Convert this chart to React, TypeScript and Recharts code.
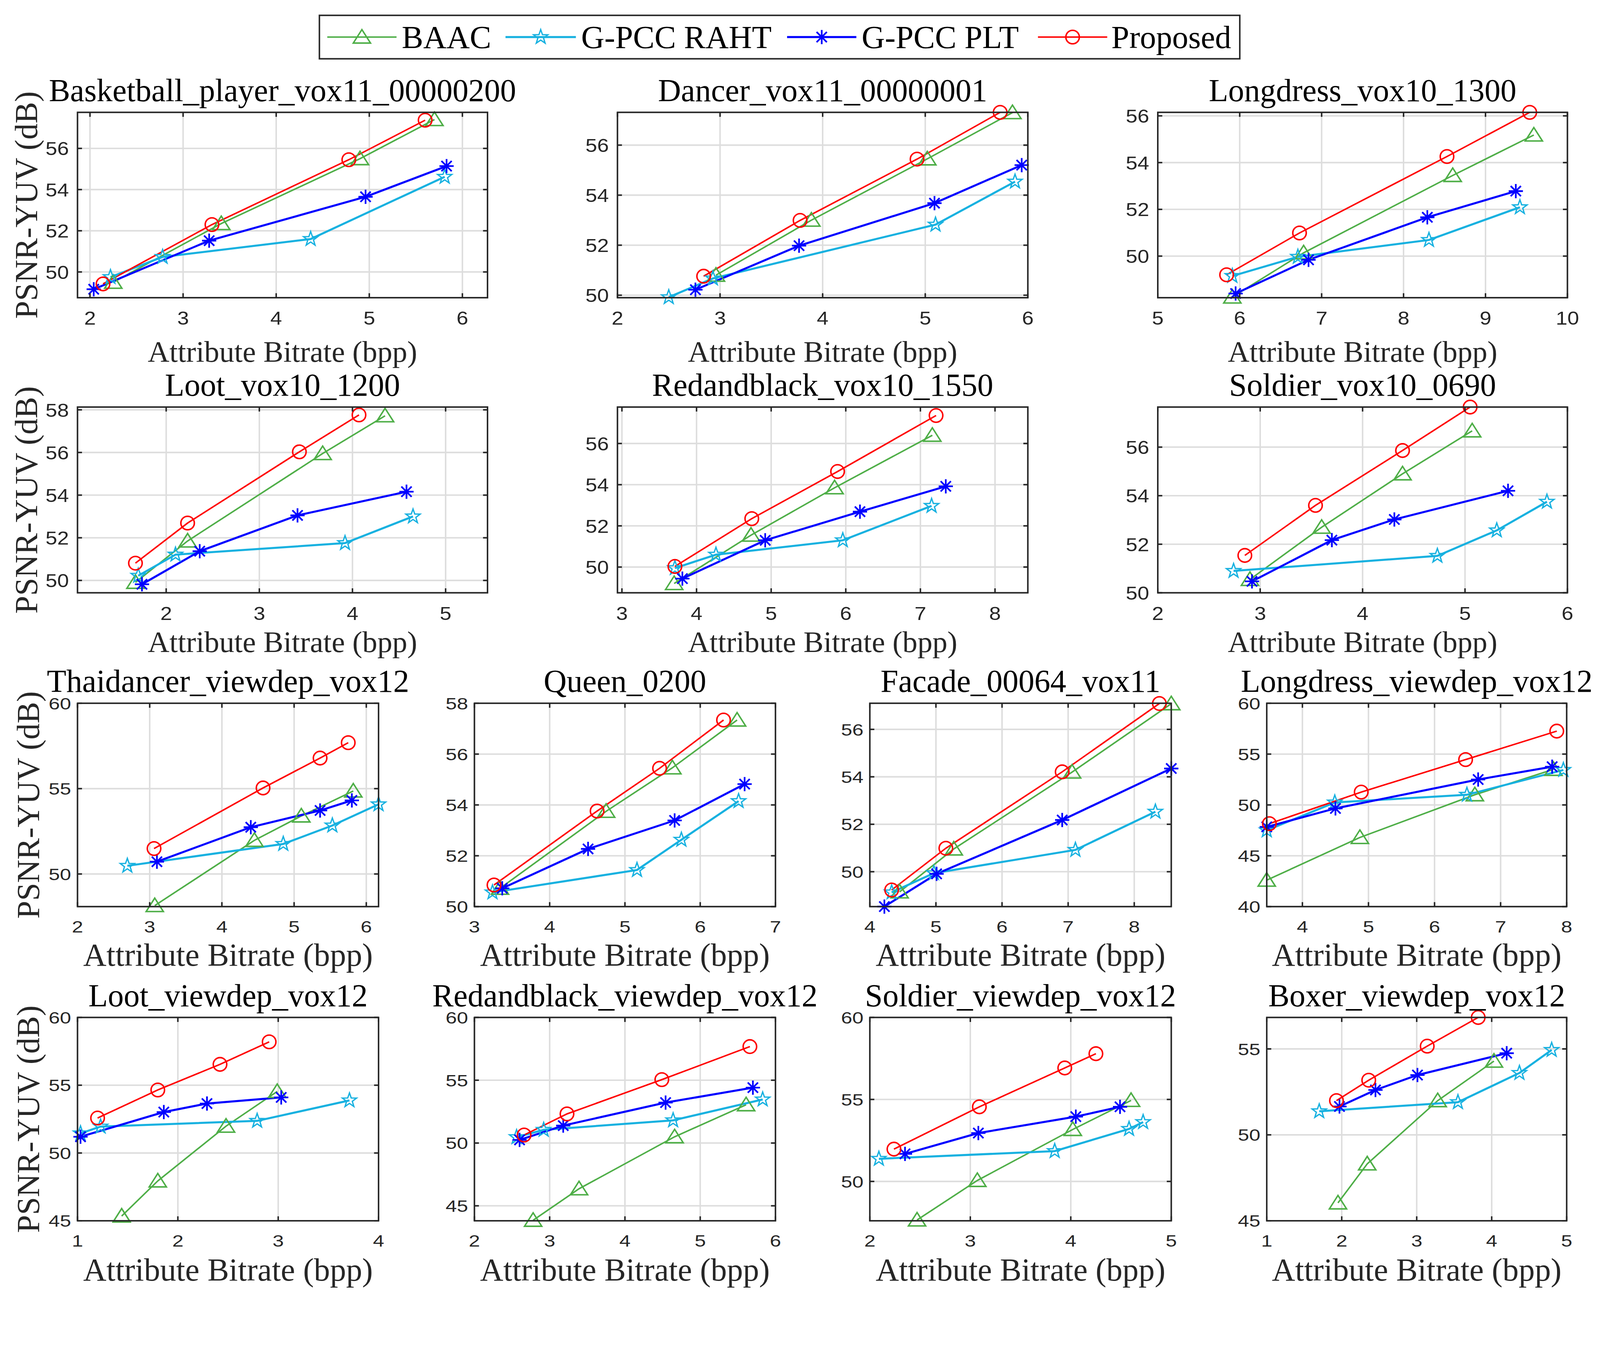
import React from 'react';
import { LineChart, Line, XAxis, YAxis, CartesianGrid } from 'recharts';

type Pt = [number, number];

// ---------------- data ----------------
const seriesNames = ['BAAC', 'G-PCC RAHT', 'G-PCC PLT', 'Proposed'];

const titles = [
  'Basketball_player_vox11_00000200',
  'Dancer_vox11_00000001',
  'Longdress_vox10_1300',
  'Loot_vox10_1200',
  'Redandblack_vox10_1550',
  'Soldier_vox10_0690',
  'Thaidancer_viewdep_vox12',
  'Queen_0200',
  'Facade_00064_vox11',
  'Longdress_viewdep_vox12',
  'Loot_viewdep_vox12',
  'Redandblack_viewdep_vox12',
  'Soldier_viewdep_vox12',
  'Boxer_viewdep_vox12',
];

const xDomains: Pt[] = [
  [1.866, 6.27], [2, 6], [5, 10],
  [1.048, 5.45], [2.94, 8.44], [2, 6],
  [2, 6.17], [3, 7], [4, 8.56], [3.46, 8],
  [1, 4], [2, 6], [2, 5], [1, 5],
];
const yDomains: Pt[] = [
  [48.75, 57.75], [49.9, 57.31], [48.22, 56.15],
  [49.42, 58.13], [48.75, 57.77], [50, 57.65],
  [48.09, 60], [50, 58], [48.53, 57.1], [40, 60],
  [45, 60], [43.81, 60], [47.6, 60], [45, 56.83],
];
const xTicks: number[][] = [
  [2, 3, 4, 5, 6], [2, 3, 4, 5, 6], [5, 6, 7, 8, 9, 10],
  [2, 3, 4, 5], [3, 4, 5, 6, 7, 8], [2, 3, 4, 5, 6],
  [2, 3, 4, 5, 6], [3, 4, 5, 6, 7], [4, 5, 6, 7, 8], [4, 5, 6, 7, 8],
  [1, 2, 3, 4], [2, 3, 4, 5, 6], [2, 3, 4, 5], [1, 2, 3, 4, 5],
];
const yTicks: number[][] = [
  [50, 52, 54, 56], [50, 52, 54, 56], [50, 52, 54, 56],
  [50, 52, 54, 56, 58], [50, 52, 54, 56], [50, 52, 54, 56],
  [50, 55, 60], [50, 52, 54, 56, 58], [50, 52, 54, 56], [40, 45, 50, 55, 60],
  [45, 50, 55, 60], [45, 50, 55, 60], [50, 55, 60], [45, 50, 55],
];

// Basketball_player_vox11_00000200
const basketballBAAC: Pt[] = [[2.25, 49.5], [3.41, 52.35], [4.9, 55.5], [5.7, 57.4]];
const basketballRAHT: Pt[] = [[2.22, 49.75], [2.78, 50.73], [4.37, 51.6], [5.81, 54.62]];
const basketballPLT: Pt[] = [[2.04, 49.16], [3.28, 51.52], [4.96, 53.65], [5.83, 55.14]];
const basketballProp: Pt[] = [[2.14, 49.42], [3.31, 52.3], [4.78, 55.45], [5.6, 57.37]];
// Dancer_vox11_00000001
const dancerBAAC: Pt[] = [[2.96, 50.8], [3.89, 53.0], [5.02, 55.45], [5.85, 57.3]];
const dancerRAHT: Pt[] = [[2.5, 49.92], [2.93, 50.67], [5.1, 52.82], [5.875, 54.54]];
const dancerPLT: Pt[] = [[2.76, 50.22], [3.77, 51.98], [5.09, 53.68], [5.94, 55.2]];
const dancerProp: Pt[] = [[2.84, 50.76], [3.78, 52.99], [4.92, 55.44], [5.73, 57.31]];
// Longdress_vox10_1300
const longdressBAAC: Pt[] = [[5.91, 48.25], [6.78, 50.14], [8.6, 53.45], [9.59, 55.18]];
const longdressRAHT: Pt[] = [[5.91, 49.15], [6.71, 49.97], [8.31, 50.69], [9.42, 52.09]];
const longdressPLT: Pt[] = [[5.95, 48.4], [6.84, 49.84], [8.29, 51.66], [9.37, 52.78]];
const longdressProp: Pt[] = [[5.84, 49.2], [6.73, 50.99], [8.53, 54.26], [9.54, 56.15]];
// Loot_vox10_1200
const lootBAAC: Pt[] = [[1.67, 49.91], [2.23, 51.85], [3.68, 55.95], [4.35, 57.72]];
const lootRAHT: Pt[] = [[1.7, 50.22], [2.1, 51.21], [3.92, 51.75], [4.65, 53.0]];
const lootPLT: Pt[] = [[1.74, 49.82], [2.36, 51.37], [3.41, 53.05], [4.58, 54.16]];
const lootProp: Pt[] = [[1.67, 50.81], [2.23, 52.69], [3.43, 56.03], [4.07, 57.76]];
// Redandblack_vox10_1550
const redblackBAAC: Pt[] = [[3.7, 49.2], [4.73, 51.55], [5.85, 53.85], [7.16, 56.4]];
const redblackRAHT: Pt[] = [[3.71, 49.95], [4.26, 50.6], [5.96, 51.3], [7.15, 52.97]];
const redblackPLT: Pt[] = [[3.81, 49.44], [4.92, 51.3], [6.19, 52.69], [7.34, 53.92]];
const redblackProp: Pt[] = [[3.71, 50.03], [4.74, 52.35], [5.89, 54.64], [7.21, 57.36]];
// Soldier_vox10_0690
const soldierBAAC: Pt[] = [[2.9, 50.55], [3.6, 52.7], [4.39, 54.9], [5.07, 56.67]];
const soldierRAHT: Pt[] = [[2.74, 50.9], [4.73, 51.52], [5.31, 52.57], [5.8, 53.75]];
const soldierPLT: Pt[] = [[2.92, 50.47], [3.7, 52.17], [4.31, 53.02], [5.42, 54.2]];
const soldierProp: Pt[] = [[2.85, 51.54], [3.54, 53.6], [4.39, 55.86], [5.05, 57.65]];
// Thaidancer_viewdep_vox12
const thaiBAAC: Pt[] = [[3.07, 48.15], [4.45, 51.97], [5.1, 53.4], [5.82, 54.86]];
const thaiRAHT: Pt[] = [[2.69, 50.48], [4.85, 51.76], [5.53, 52.84], [6.17, 54.08]];
const thaiPLT: Pt[] = [[3.1, 50.72], [4.4, 52.74], [5.36, 53.72], [5.8, 54.31]];
const thaiProp: Pt[] = [[3.06, 51.49], [4.57, 55.04], [5.36, 56.79], [5.75, 57.69]];
// Queen_0200
const queenBAAC: Pt[] = [[3.34, 50.72], [4.75, 53.75], [5.63, 55.46], [6.49, 57.34]];
const queenRAHT: Pt[] = [[3.24, 50.56], [5.16, 51.44], [5.75, 52.63], [6.51, 54.15]];
const queenPLT: Pt[] = [[3.37, 50.72], [4.51, 52.27], [5.66, 53.39], [6.59, 54.82]];
const queenProp: Pt[] = [[3.26, 50.85], [4.63, 53.76], [5.46, 55.44], [6.31, 57.34]];
// Facade_00064_vox11
const facadeBAAC: Pt[] = [[4.45, 49.15], [5.27, 50.96], [7.06, 54.2], [8.56, 57.08]];
const facadeRAHT: Pt[] = [[4.33, 49.13], [4.97, 49.94], [7.11, 50.92], [8.32, 52.53]];
const facadePLT: Pt[] = [[4.22, 48.53], [5.01, 49.91], [6.91, 52.18], [8.56, 54.35]];
const facadeProp: Pt[] = [[4.33, 49.23], [5.15, 50.99], [6.91, 54.21], [8.38, 57.09]];
// Longdress_viewdep_vox12
const longdressVdBAAC: Pt[] = [[3.46, 42.6], [4.87, 46.8], [6.61, 51.0], [7.8, 53.5]];
const longdressVdRAHT: Pt[] = [[3.46, 47.5], [4.49, 50.24], [6.49, 51.0], [7.95, 53.44]];
const longdressVdPLT: Pt[] = [[3.46, 47.84], [4.5, 49.66], [6.66, 52.5], [7.78, 53.76]];
const longdressVdProp: Pt[] = [[3.5, 48.16], [4.89, 51.26], [6.47, 54.46], [7.85, 57.26]];
// Loot_viewdep_vox12
const lootVdBAAC: Pt[] = [[1.44, 45.35], [1.8, 47.94], [2.48, 51.98], [2.99, 54.54]];
const lootVdRAHT: Pt[] = [[1.03, 51.45], [1.23, 51.95], [2.79, 52.37], [3.71, 53.88]];
const lootVdPLT: Pt[] = [[1.03, 51.2], [1.86, 53.02], [2.29, 53.65], [3.03, 54.1]];
const lootVdProp: Pt[] = [[1.2, 52.58], [1.8, 54.65], [2.42, 56.54], [2.91, 58.2]];
// Redandblack_viewdep_vox12
const redblackVdBAAC: Pt[] = [[2.78, 43.85], [3.39, 46.36], [4.66, 50.5], [5.61, 53.05]];
const redblackVdRAHT: Pt[] = [[2.56, 50.47], [2.92, 51.05], [4.64, 51.81], [5.83, 53.47]];
const redblackVdPLT: Pt[] = [[2.6, 50.25], [3.18, 51.39], [4.54, 53.22], [5.7, 54.41]];
const redblackVdProp: Pt[] = [[2.66, 50.64], [3.23, 52.32], [4.49, 55.05], [5.66, 57.68]];
// Soldier_viewdep_vox12
const soldierVdBAAC: Pt[] = [[2.47, 47.65], [3.07, 50.06], [4.02, 53.17], [4.6, 54.94]];
const soldierVdRAHT: Pt[] = [[2.09, 51.38], [3.84, 51.85], [4.58, 53.2], [4.72, 53.62]];
const soldierVdPLT: Pt[] = [[2.35, 51.68], [3.08, 52.95], [4.05, 53.95], [4.49, 54.55]];
const soldierVdProp: Pt[] = [[2.24, 51.97], [3.09, 54.55], [3.94, 56.92], [4.25, 57.79]];
// Boxer_viewdep_vox12
const boxerVdBAAC: Pt[] = [[1.95, 46.04], [2.34, 48.31], [3.28, 51.99], [4.03, 54.29]];
const boxerVdRAHT: Pt[] = [[1.7, 51.37], [3.55, 51.9], [4.37, 53.6], [4.8, 54.94]];
const boxerVdPLT: Pt[] = [[1.97, 51.65], [2.45, 52.61], [3.01, 53.48], [4.2, 54.75]];
const boxerVdProp: Pt[] = [[1.93, 51.99], [2.36, 53.18], [3.14, 55.16], [3.82, 56.83]];

const plotSeries: Pt[][][] = [
  [basketballBAAC, basketballRAHT, basketballPLT, basketballProp],
  [dancerBAAC, dancerRAHT, dancerPLT, dancerProp],
  [longdressBAAC, longdressRAHT, longdressPLT, longdressProp],
  [lootBAAC, lootRAHT, lootPLT, lootProp],
  [redblackBAAC, redblackRAHT, redblackPLT, redblackProp],
  [soldierBAAC, soldierRAHT, soldierPLT, soldierProp],
  [thaiBAAC, thaiRAHT, thaiPLT, thaiProp],
  [queenBAAC, queenRAHT, queenPLT, queenProp],
  [facadeBAAC, facadeRAHT, facadePLT, facadeProp],
  [longdressVdBAAC, longdressVdRAHT, longdressVdPLT, longdressVdProp],
  [lootVdBAAC, lootVdRAHT, lootVdPLT, lootVdProp],
  [redblackVdBAAC, redblackVdRAHT, redblackVdPLT, redblackVdProp],
  [soldierVdBAAC, soldierVdRAHT, soldierVdPLT, soldierVdProp],
  [boxerVdBAAC, boxerVdRAHT, boxerVdPLT, boxerVdProp],
];

// ---------------- layout & style ----------------
const PAGE_W = 4273;
const PAGE_H = 3489;
const SERIF = '"Liberation Serif", "Times New Roman", serif';
const SANS = '"Liberation Sans", Arial, Helvetica, sans-serif';
const AXIS_COLOR = '#262626';
const GRID_COLOR = '#DDDDDD';

const colors = ['#4EAE47', '#17B1E0', '#0000FF', '#FF0000'];
const lineWidths = [4, 5.5, 5.5, 4];

type Row = {
  top: number;
  bottom: number;
  labelGap: number;
  labelFont: number;
  yLabelX: number;
  tickFont: number;
  tickSx: number;
  tickBase: number;
  yTickGap: number;
};
const rows: Row[] = [
  { top: 300, bottom: 795, labelGap: 171, labelFont: 80, yLabelX: 99, tickFont: 51, tickSx: 1.1, tickBase: 72, yTickGap: 23 },
  { top: 1087, bottom: 1583, labelGap: 158, labelFont: 80, yLabelX: 99, tickFont: 51, tickSx: 1.1, tickBase: 73, yTickGap: 23 },
  { top: 1878, bottom: 2421, labelGap: 158, labelFont: 86, yLabelX: 104, tickFont: 45, tickSx: 1.2, tickBase: 69, yTickGap: 17 },
  { top: 2717, bottom: 3260, labelGap: 160, labelFont: 86, yLabelX: 104, tickFont: 45, tickSx: 1.2, tickBase: 69, yTickGap: 17 },
];
const cols3: Pt[] = [[207, 1302], [1649, 2745], [3092, 4186]];
const cols4: Pt[] = [[207, 1011], [1267, 2071], [2323, 3128], [3383, 4184]];

type Rect = { x0: number; x1: number; y0: number; y1: number; row: number };
const rects: Rect[] = [];
for (let r = 0; r < 4; r++) {
  const cols = r < 2 ? cols3 : cols4;
  cols.forEach(([a, b]) => rects.push({ x0: a, x1: b, y0: rows[r].top, y1: rows[r].bottom, row: r }));
}

const PADL = 220;
const PADR = 80;
const PADT = 60;
const PADB = 130;
const TICK_LEN = 12;

// ---------------- markers ----------------
function Marker({ kind, cx, cy }: { kind: number; cx: number; cy: number }) {
  const c = colors[kind];
  if (kind === 0) {
    return (
      <polygon
        points={`${cx},${cy - 20} ${cx + 23},${cy + 16} ${cx - 23},${cy + 16}`}
        fill="none"
        stroke={c}
        strokeWidth={4}
      />
    );
  }
  if (kind === 1) {
    const R = 20;
    const r = 8;
    const pts: string[] = [];
    for (let i = 0; i < 10; i++) {
      const ang = -Math.PI / 2 + (i * Math.PI) / 5;
      const rad = i % 2 === 0 ? R : r;
      pts.push(`${cx + rad * Math.cos(ang)},${cy + rad * Math.sin(ang)}`);
    }
    return <polygon points={pts.join(' ')} fill="none" stroke={c} strokeWidth={3.5} />;
  }
  if (kind === 2) {
    const R = 19;
    const d = R * 0.72;
    return (
      <g stroke={c} strokeWidth={4.5}>
        <line x1={cx} y1={cy - R} x2={cx} y2={cy + R} />
        <line x1={cx - R} y1={cy} x2={cx + R} y2={cy} />
        <line x1={cx - d} y1={cy - d} x2={cx + d} y2={cy + d} />
        <line x1={cx - d} y1={cy + d} x2={cx + d} y2={cy - d} />
      </g>
    );
  }
  return <circle cx={cx} cy={cy} r={18} fill="none" stroke={c} strokeWidth={4} />;
}

// ---------------- subplot ----------------
function Subplot({ idx }: { idx: number }) {
  const rc = rects[idx];
  const row = rows[rc.row];
  const W = rc.x1 - rc.x0;
  const H = rc.y1 - rc.y0;
  const plotTop = PADT;
  const plotBottom = PADT + H;
  const plotLeft = PADL;
  const plotRight = PADL + W;

  const renderXTick = (p: any) => {
    const x = p.x;
    return (
      <g>
        <line x1={x} x2={x} y1={plotBottom} y2={plotBottom - TICK_LEN} stroke={AXIS_COLOR} strokeWidth={4} />
        <line x1={x} x2={x} y1={plotTop} y2={plotTop + TICK_LEN} stroke={AXIS_COLOR} strokeWidth={4} />
        <text
          transform={`translate(${x}, ${plotBottom + row.tickBase}) scale(${row.tickSx}, 1)`}
          textAnchor="middle"
          fontFamily={SANS}
          fontSize={row.tickFont}
          fill={AXIS_COLOR}
        >
          {String(p.payload.value)}
        </text>
      </g>
    );
  };
  const renderYTick = (p: any) => {
    const y = p.y;
    return (
      <g>
        <line x1={plotLeft} x2={plotLeft + TICK_LEN} y1={y} y2={y} stroke={AXIS_COLOR} strokeWidth={4} />
        <line x1={plotRight} x2={plotRight - TICK_LEN} y1={y} y2={y} stroke={AXIS_COLOR} strokeWidth={4} />
        <text
          transform={`translate(${plotLeft - row.yTickGap}, ${y + row.tickFont * 0.36}) scale(${row.tickSx}, 1)`}
          textAnchor="end"
          fontFamily={SANS}
          fontSize={row.tickFont}
          fill={AXIS_COLOR}
        >
          {String(p.payload.value)}
        </text>
      </g>
    );
  };

  const series = plotSeries[idx];

  return (
    <div style={{ position: 'absolute', left: rc.x0 - PADL, top: rc.y0 - PADT }}>
      <LineChart
        width={W + PADL + PADR}
        height={H + PADT + PADB}
        margin={{ top: PADT, right: PADR, bottom: 0, left: 0 }}
      >
        <CartesianGrid stroke={GRID_COLOR} strokeWidth={4} />
        <XAxis
          type="number"
          dataKey="x"
          domain={xDomains[idx]}
          ticks={xTicks[idx]}
          interval={0}
          height={PADB}
          tickLine={false}
          axisLine={false}
          tick={renderXTick}
        />
        <YAxis
          type="number"
          dataKey="y"
          domain={yDomains[idx]}
          ticks={yTicks[idx]}
          interval={0}
          width={PADL}
          tickLine={false}
          axisLine={false}
          tick={renderYTick}
        />
        {series.map((pts, k) => (
          <Line
            key={seriesNames[k]}
            name={seriesNames[k]}
            data={pts.map(([x, y]) => ({ x, y }))}
            dataKey="y"
            stroke={colors[k]}
            strokeWidth={lineWidths[k]}
            isAnimationActive={false}
            activeDot={false}
            dot={(dp: any) => <Marker key={`m${k}-${dp.index}`} kind={k} cx={dp.cx} cy={dp.cy} />}
          />
        ))}
      </LineChart>
    </div>
  );
}

// ---------------- legend / titles / labels ----------------
const legendEntries = [
  { l1: 874, l2: 1059, tx: 1073 },
  { l1: 1350, l2: 1538, tx: 1552 },
  { l1: 2102, l2: 2287, tx: 2301 },
  { l1: 2772, l2: 2957, tx: 2968 },
];

function Overlay() {
  return (
    <svg
      width={PAGE_W}
      height={PAGE_H}
      style={{ position: 'absolute', left: 0, top: 0, pointerEvents: 'none' }}
    >
      {rects.map((rc, i) => {
        const row = rows[rc.row];
        const cx = (rc.x0 + rc.x1) / 2;
        const cy = (rc.y0 + rc.y1) / 2;
        return (
          <g key={i}>
            <rect x={rc.x0} y={rc.y0} width={rc.x1 - rc.x0} height={rc.y1 - rc.y0} fill="none" stroke={AXIS_COLOR} strokeWidth={4} />
            <text x={cx} y={rc.y0 - 30} textAnchor="middle" fontFamily={SERIF} fontSize={85} fill="#000">
              {titles[i]}
            </text>
            <text x={cx} y={rc.y1 + row.labelGap} textAnchor="middle" fontFamily={SERIF} fontSize={row.labelFont} fill={AXIS_COLOR}>
              Attribute Bitrate (bpp)
            </text>
            {rc.x0 === 207 && (
              <text
                x={row.yLabelX}
                y={cy}
                textAnchor="middle"
                fontFamily={SERIF}
                fontSize={86}
                fill={AXIS_COLOR}
                transform={`rotate(-90, ${row.yLabelX}, ${cy})`}
              >
                PSNR-YUV (dB)
              </text>
            )}
          </g>
        );
      })}
      <rect x={853} y={41} width={2458} height={116} fill="#fff" stroke={AXIS_COLOR} strokeWidth={4} />
      {legendEntries.map((e, k) => (
        <g key={k}>
          <line x1={e.l1} x2={e.l2} y1={99} y2={99} stroke={colors[k]} strokeWidth={lineWidths[k]} />
          <Marker kind={k} cx={(e.l1 + e.l2) / 2} cy={99} />
          <text x={e.tx} y={128} fontFamily={SERIF} fontSize={86} fill="#000">
            {seriesNames[k]}
          </text>
        </g>
      ))}
    </svg>
  );
}

export default function App() {
  const vw = typeof window !== 'undefined' ? window.innerWidth : PAGE_W;
  const vh = typeof window !== 'undefined' ? window.innerHeight : PAGE_H;
  const s = Math.min(vw / PAGE_W, vh / PAGE_H);
  return (
    <div
      style={{
        position: 'absolute',
        left: 0,
        top: 0,
        width: PAGE_W,
        height: PAGE_H,
        background: '#fff',
        overflow: 'hidden',
        transform: `scale(${s})`,
        transformOrigin: '0 0',
      }}
    >
      {rects.map((_, i) => (
        <Subplot key={i} idx={i} />
      ))}
      <Overlay />
    </div>
  );
}
